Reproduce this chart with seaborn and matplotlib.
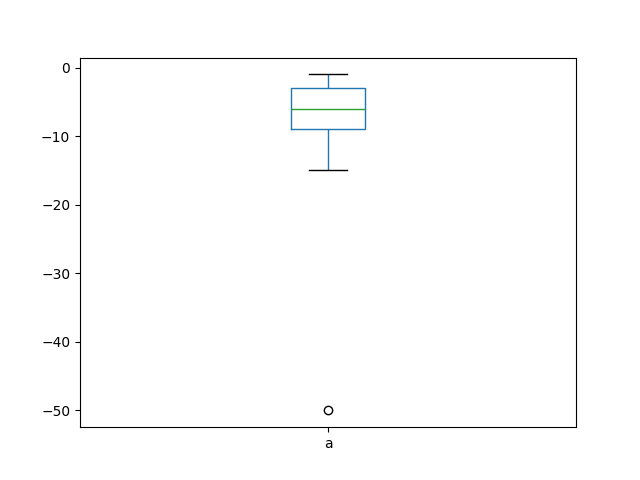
import pandas as pd
import seaborn as sns
from matplotlib import pyplot as plt

# column values: q1 -9, median -6, q3 -3, whiskers -15/-1, outlier -50
a = [-50, -15, -9, -8, -6, -5, -3, -2, -1]

df = pd.DataFrame({"a": a})

fig, ax = plt.subplots(figsize=(6.4, 4.8), dpi=100)

sns.boxplot(
    data=df, ax=ax, width=0.15, fill=False, whis=1.5,
    boxprops=dict(color="#1f77b4", linewidth=1),
    whiskerprops=dict(color="#1f77b4", linewidth=1),
    capprops=dict(color="black", linewidth=1),
    medianprops=dict(color="#2ca02c", linewidth=1),
    flierprops=dict(marker="o", markerfacecolor="none",
                    markeredgecolor="black", markersize=6),
    capwidths=0.075,
)
ax.set_xlim(-0.5, 0.5)

fig.savefig("out.png")
